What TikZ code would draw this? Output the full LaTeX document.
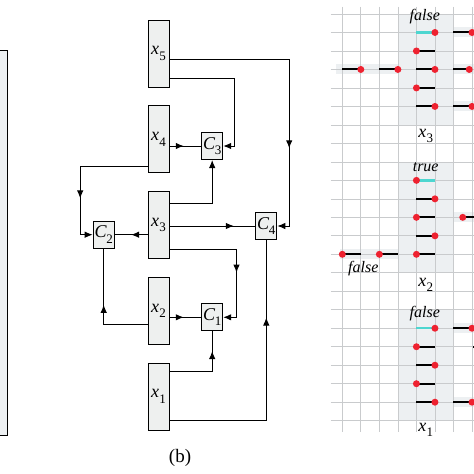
\documentclass[tikz,border=0pt]{standalone}
\usepackage{fontspec}
\setmainfont{Liberation Serif}
\usetikzlibrary{arrows.meta,calc,decorations.markings}
\definecolor{boxgray}{HTML}{EEF0EF}
\definecolor{shadegray}{HTML}{EDF0F2}
\definecolor{gridgray}{HTML}{C9CBCD}
\definecolor{dotred}{HTML}{EE2230}
\definecolor{wirecyan}{HTML}{4DD6D0}
\newcommand{\xv}[1]{\textit{x}\kern0.3pt\raisebox{-0.3em}{\fontsize{13}{13}\selectfont#1}}
\newcommand{\cv}[1]{\textit{C}\kern-0.5pt\raisebox{-0.3em}{\fontsize{13}{13}\selectfont#1}}

\begin{document}
\begin{tikzpicture}[x=1pt,y=-1pt,line width=1pt,>={Latex[length=8pt,width=6.5pt]},
		var/.style={draw,fill=boxgray,minimum width=21pt,minimum height=67pt,inner sep=0pt,font=\fontsize{18}{20}\selectfont},
		clause/.style={draw,fill=boxgray,minimum width=21pt,minimum height=27pt,inner sep=0pt,font=\fontsize{18}{20}\selectfont},
		midarrow/.style={postaction={decorate},decoration={markings,mark=at position #1 with {\arrow{>}}}},
		gridline/.style={draw=gridgray,line width=0.7pt},
		stub/.style={line width=2pt,black},
		cyanstub/.style={line width=2.4pt,wirecyan},
		dot/.style={fill=dotred},
		lbl/.style={font=\fontsize{16}{18}\selectfont\itshape},
		gridvar/.style={font=\fontsize{18}{20}\selectfont}]
	\useasboundingbox (0,0) rectangle (474,474);
	% (a)
	\draw[fill=shadegray] (-20,50.7) rectangle (7.3,435);
	% (b)
		\node[var] (x5) at (158.5,53.5) {\xv{5}};
		\node[var] (x4) at (158.5,139.3) {\xv{4}};
		\node[var] (x3) at (158.5,225) {\xv{3}};
		\node[var] (x2) at (158.5,310.8) {\xv{2}};
		\node[var] (x1) at (158.5,396.5) {\xv{1}};
		\node[clause] (C3) at (212.2,146) {\cv{3}};
		\node[clause] (C1) at (212.2,317.3) {\cv{1}};
		\node[clause] (C2) at (103.7,234.7) {\cv{2}};
		\node[clause] (C4) at (266.3,226) {\cv{4}};
		\draw[->,midarrow=0.70] ($(x5.east)+(0,5.5)$) -- ++(119.7,0) |- (C4.east);
		\draw[->] ($(x5.east)+(0,24.5)$) -- ++(65.3,0) |- (C3.east);
		\draw[midarrow=0.45] (x4.east |- C3) -- (C3.west);
		\draw[->,midarrow=0.67] ($(x4.west)+(0,27.4)$) -- ++(-67.3,0) |- (C2.west);
		\draw[->] ($(x3.east)+(0,-21.7)$) -| (C3.south);
		\draw[midarrow=0.75] (x3.east |- C4.west) -- (C4.west);
		\draw[midarrow=0.5] (x3.west |- C2) -- (C2.east);
		\draw[->,midarrow=0.61] ($(x3.east)+(0,24)$) -- ++(67,0) |- (C1.east);
		\draw[midarrow=0.45] (x2.east |- C1) -- (C1.west);
		\draw[midarrow=0.53] ($(x2.west)+(0,13.5)$) -| (C2.south);
		\draw[midarrow=0.76] ($(x1.east)+(0,-25.5)$) -| (C1.south);
		\draw[midarrow=0.72] ($(x1.east)+(0,23.5)$) -| (C4.south);
		\node[font=\fontsize{19}{21}\selectfont] (capb) at (180,458) {(b)};
	% (c)
	\begin{scope}[shift={(342.3,14)},x=18.53pt,y=-18.485pt]
		\fill[shadegray] (3,0) rectangle (6,6);
		\fill[shadegray] (3,8) rectangle (6,14);
		\fill[shadegray] (3,16) rectangle (6,22);
		\fill[shadegray] (-0.35,2.73) rectangle (3,3.27);
		\fill[shadegray] (-0.12,12.73) rectangle (3,13.27);
		\foreach \k in {1,3,5,11,17,21}
			\fill[shadegray] (6,\k-0.27) rectangle (7.3,\k+0.27);
		\foreach \k in {0,...,22}
			\draw[gridline] (-0.625,\k) -- (7.3,\k);
		\foreach \j in {0,...,7}
			\draw[gridline] (\j,-0.4) -- (\j,22.6);
		\foreach \a/\b/\k/\d in {4/5/1/5,4/5/9/4,4/5/17/5}{
			\draw[cyanstub] (\a,\k) -- (\b,\k);
			\fill[dot] (\d,\k) circle (3.5pt);
		}
		\foreach \a/\b/\k/\d in {4/5/2/4,4/5/3/5,4/5/4/4,4/5/5/5,0/1/3/1,2/3/3/3,6/7/1/7,6/6.85/3/6.85,6/7/5/7,
				4/5/10/5,4/5/11/4,6.5/7.3/11/6.5,4/5/12/5,4/5/13/4,0/1/13/0,2/3/13/2,
				6/7/17/7,4/5/18/4,4/5/19/5,4/5/20/4,4/5/21/5,6/7/21/7}{
			\draw[stub] (\a,\k) -- (\b,\k);
			\fill[dot] (\d,\k) circle (3.5pt);
		}
		\draw[stub] (7.05,18) -- (7.3,18);
		\node[lbl] (f3) at (4.45,0.15) {false};
		\node[lbl] (t2) at (4.5,8.3) {true};
		\node[lbl] (f1) at (4.45,16.2) {false};
		\node[lbl] (f2) at (1.13,13.76) {false};
		\node[gridvar] (g3) at (4.5,6.6) {\xv{3}};
		\node[gridvar] (g2) at (4.5,14.66) {\xv{2}};
		\node[gridvar] (g1) at (4.5,22.5) {\xv{1}};
	\end{scope}
\end{tikzpicture}
\end{document}
